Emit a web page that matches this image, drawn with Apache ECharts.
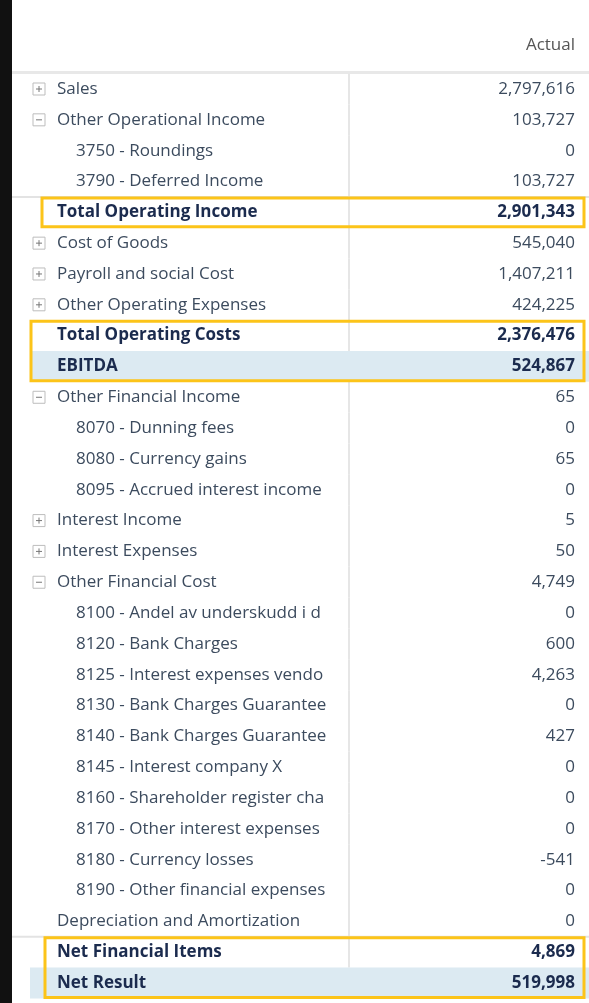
<!DOCTYPE html>
<html>
<head>
<meta charset="utf-8">
<script src="https://cdn.jsdelivr.net/npm/echarts@6/dist/echarts.min.js"></script>
<style>
  html, body { margin: 0; padding: 0; background: #fff; }
  #chart { width: 589px; height: 1003px; }
</style>
</head>
<body>
<div id="chart"></div>
<script>
// row labels, levels (0 = top, 1 = child), expand icon, bold, highlight
var labels = ['Sales', 'Other Operational Income', '3750 - Roundings', '3790 - Deferred Income',
  'Total Operating Income', 'Cost of Goods', 'Payroll and social Cost', 'Other Operating Expenses',
  'Total Operating Costs', 'EBITDA', 'Other Financial Income', '8070 - Dunning fees',
  '8080 - Currency gains', '8095 - Accrued interest income', 'Interest Income', 'Interest Expenses',
  'Other Financial Cost', '8100 - Andel av underskudd i d', '8120 - Bank Charges',
  '8125 - Interest expenses vendo', '8130 - Bank Charges Guarantee', '8140 - Bank Charges Guarantee',
  '8145 - Interest company X', '8160 - Shareholder register cha', '8170 - Other interest expenses',
  '8180 - Currency losses', '8190 - Other financial expenses', 'Depreciation and Amortization',
  'Net Financial Items', 'Net Result'];
var values = [2797616, 103727, 0, 103727, 2901343, 545040, 1407211, 424225, 2376476, 524867,
  65, 0, 65, 0, 5, 50, 4749, 0, 600, 4263, 0, 427, 0, 0, 0, -541, 0, 0, 4869, 519998];
var levels = [0,0,1,1,0,0,0,0,0,0,0,1,1,1,0,0,0,1,1,1,1,1,1,1,1,1,1,0,0,0];
var icons  = ['+','-','','','','+','+','+','','','-','','','','+','+','-','','','','','','','','','','','','',''];
var bold   = [0,0,0,0,1,0,0,0,1,1,0,0,0,0,0,0,0,0,0,0,0,0,0,0,0,0,0,0,1,1];
var shaded = [0,0,0,0,0,0,0,0,0,1,0,0,0,0,0,0,0,0,0,0,0,0,0,0,0,0,0,0,0,1];
// yellow outlined groups: [first row, last row]
var boxes = [[4, 4], [8, 9], [28, 29]];

var chart = echarts.init(document.getElementById('chart'));

function renderRow(params, api) {
  var i = api.value(1);
  var c = api.coord([0, i]);
  var h = api.size([0, 1])[1];
  var top = c[1] - h / 2;
  var kids = [];
  if (shaded[i]) {
    kids.push({ type: 'rect', shape: { x: 30, y: top, width: 559, height: h }, style: { fill: '#dceaf2' } });
  }
  if (i === 0) {
    kids.push({ type: 'line', shape: { x1: 12, y1: top - 1, x2: 589, y2: top - 1 }, style: { stroke: '#e8e8e8', lineWidth: 3 } });
  }
  if (i === 4 || i === 28) {
    kids.push({ type: 'line', shape: { x1: 12, y1: top, x2: 589, y2: top }, style: { stroke: '#e3e3e3', lineWidth: 2 } });
  }
  if (!shaded[i]) {
    kids.push({ type: 'line', shape: { x1: 349, y1: top, x2: 349, y2: top + h }, style: { stroke: '#e6e6e6', lineWidth: 2 } });
  }
  if (icons[i]) {
    kids.push({ type: 'rect', shape: { x: 33, y: c[1] - 6, width: 12, height: 12 }, style: { fill: '#fff', stroke: '#bdbdbd', lineWidth: 1 } });
    kids.push({ type: 'line', shape: { x1: 36, y1: c[1], x2: 42, y2: c[1] }, style: { stroke: '#777', lineWidth: 1 } });
    if (icons[i] === '+') {
      kids.push({ type: 'line', shape: { x1: 39, y1: c[1] - 3, x2: 39, y2: c[1] + 3 }, style: { stroke: '#777', lineWidth: 1 } });
    }
  }
  var font = (bold[i] ? 'bold ' : '') + '17px "Open Sans", "Noto Sans", sans-serif';
  var color = bold[i] ? '#1b2b4e' : '#3c4b5e';
  kids.push({ type: 'text', style: { text: labels[i], x: levels[i] ? 76 : 57, y: c[1], font: font, fill: color, textAlign: 'left', textVerticalAlign: 'middle', verticalAlign: 'middle', width: 272, overflow: 'truncate', ellipsis: '' } });
  kids.push({ type: 'text', style: { text: values[i].toLocaleString('en-US'), x: 575, y: c[1], font: font, fill: color, textAlign: 'right', textVerticalAlign: 'middle', verticalAlign: 'middle' } });
  boxes.forEach(function (b) {
    if (b[0] === i) {
      var n = b[1] - b[0] + 1;
      var left = n > 1 ? 31 : (i === 4 ? 42 : 45);
      if (i === 28) left = 45;
      kids.push({ type: 'rect', shape: { x: left, y: top + 1, width: 584 - left, height: h * n - 2 }, style: { fill: 'none', stroke: '#fcc419', lineWidth: 3 }, z2: 10 });
    }
  });
  return { type: 'group', children: kids };
}

var option = {
  animation: false,
  grid: { left: 0, right: 0, top: 73.6, bottom: 4.6 },
  xAxis: { type: 'value', min: 0, max: 589, show: false },
  yAxis: { type: 'category', data: labels, inverse: true, show: false },
  graphic: [
    { type: 'rect', shape: { x: 0, y: 0, width: 12, height: 1003 }, style: { fill: '#111' } },
    { type: 'text', style: { text: 'Actual', x: 575, y: 45, font: '17px "Open Sans", "Noto Sans", sans-serif', fill: '#555', textAlign: 'right', textVerticalAlign: 'middle', verticalAlign: 'middle' } }
  ],
  series: [{
    type: 'custom',
    clip: false,
    renderItem: renderRow,
    encode: { x: 0, y: 1 },
    data: values.map(function (v, i) { return [0, i]; })
  }]
};

chart.setOption(option);
</script>
</body>
</html>
